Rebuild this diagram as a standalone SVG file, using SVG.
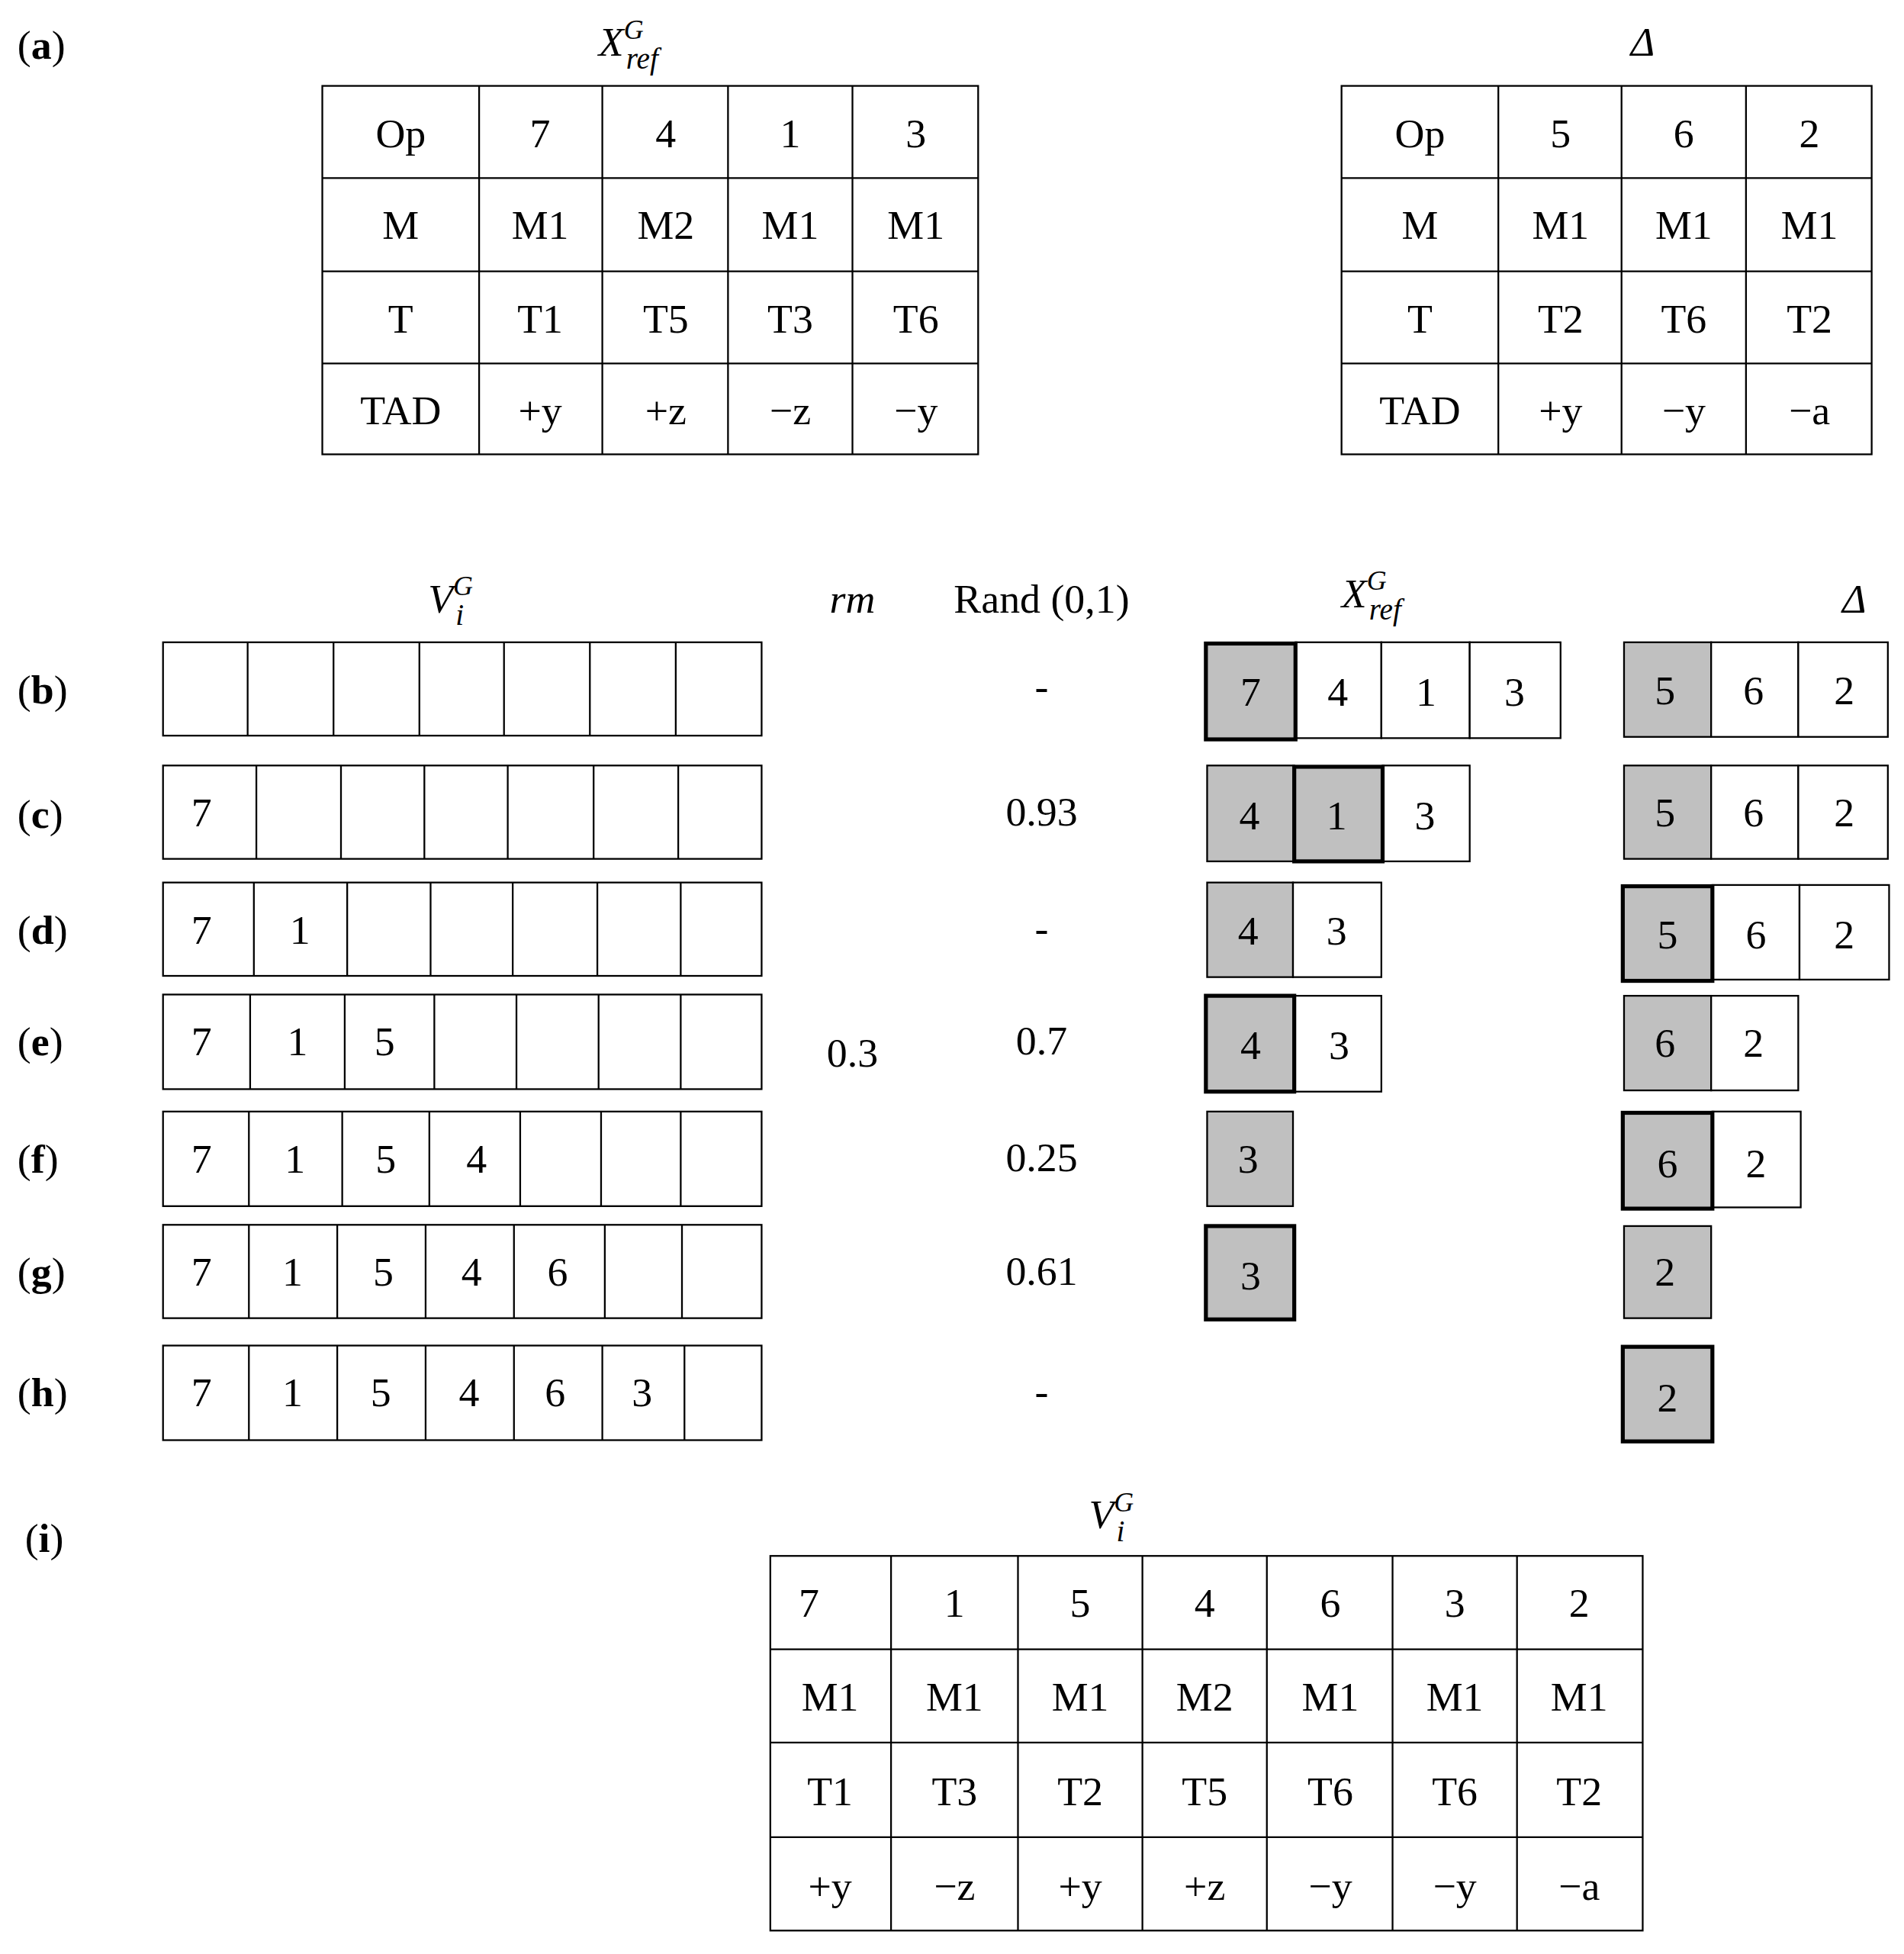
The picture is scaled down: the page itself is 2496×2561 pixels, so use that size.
<svg xmlns="http://www.w3.org/2000/svg" width="2496" height="2561" viewBox="0 0 2496 2561">
<style>
text{font-family:"Liberation Serif","DejaVu Serif",serif;font-size:33px;fill:#000;text-anchor:middle}
.lb{text-anchor:start}
.it{font-style:italic}
rect{fill:#fff;stroke:#000;stroke-width:1.4}
.g{fill:#c0c0c0}
.k{stroke-width:3.2}
line{stroke:#000;stroke-width:1.4}
</style>
<rect x="0" y="0" width="2496" height="2561" style="fill:#fff;stroke:none"/>
<g transform="scale(1.6314)">
<g id="labels">
<text class="lb" x="14" y="47">(<tspan font-weight="bold">a</tspan>)</text>
<text class="lb" x="14" y="565">(<tspan font-weight="bold">b</tspan>)</text>
<text class="lb" x="14" y="665">(<tspan font-weight="bold">c</tspan>)</text>
<text class="lb" x="14" y="758">(<tspan font-weight="bold">d</tspan>)</text>
<text class="lb" x="14" y="848">(<tspan font-weight="bold">e</tspan>)</text>
<text class="lb" x="14" y="942">(<tspan font-weight="bold">f</tspan>)</text>
<text class="lb" x="14" y="1033">(<tspan font-weight="bold">g</tspan>)</text>
<text class="lb" x="14" y="1130">(<tspan font-weight="bold">h</tspan>)</text>
<text class="lb" x="20" y="1247">(<tspan font-weight="bold">i</tspan>)</text>
</g>
<g id="titles">
<text class="it" x="505" y="45">X<tspan font-size="22" dy="-14">G</tspan><tspan font-size="24" dx="-14" dy="24">ref</tspan></text>
<text class="it" x="1320" y="45">Δ</text>
<text class="it" x="362" y="492">V<tspan font-size="22" dy="-14">G</tspan><tspan font-size="24" dx="-14" dy="24">i</tspan></text>
<text class="it" x="685" y="492">rm</text>
<text x="837" y="492">Rand (0,1)</text>
<text class="it" x="1102" y="488">X<tspan font-size="22" dy="-14">G</tspan><tspan font-size="24" dx="-14" dy="24">ref</tspan></text>
<text class="it" x="1490" y="492">Δ</text>
<text class="it" x="893" y="1228">V<tspan font-size="22" dy="-14">G</tspan><tspan font-size="24" dx="-14" dy="24">i</tspan></text>
</g>
<g id="table-a">
<rect x="259" y="69" width="527" height="296"/>
<line x1="385" y1="69" x2="385" y2="365"/><line x1="484" y1="69" x2="484" y2="365"/><line x1="585" y1="69" x2="585" y2="365"/><line x1="685" y1="69" x2="685" y2="365"/>
<line x1="259" y1="143" x2="786" y2="143"/><line x1="259" y1="218" x2="786" y2="218"/><line x1="259" y1="292" x2="786" y2="292"/>
<text x="322" y="118">Op</text><text x="434" y="118">7</text><text x="535" y="118">4</text><text x="635" y="118">1</text><text x="736" y="118">3</text>
<text x="322" y="192">M</text><text x="434" y="192">M1</text><text x="535" y="192">M2</text><text x="635" y="192">M1</text><text x="736" y="192">M1</text>
<text x="322" y="267">T</text><text x="434" y="267">T1</text><text x="535" y="267">T5</text><text x="635" y="267">T3</text><text x="736" y="267">T6</text>
<text x="322" y="341">TAD</text><text x="434" y="341">+y</text><text x="535" y="341">+z</text><text x="635" y="341">−z</text><text x="736" y="341">−y</text>
</g>
<g id="table-delta">
<rect x="1078" y="69" width="426" height="296"/>
<line x1="1204" y1="69" x2="1204" y2="365"/><line x1="1303" y1="69" x2="1303" y2="365"/><line x1="1403" y1="69" x2="1403" y2="365"/>
<line x1="1078" y1="143" x2="1504" y2="143"/><line x1="1078" y1="218" x2="1504" y2="218"/><line x1="1078" y1="292" x2="1504" y2="292"/>
<text x="1141" y="118">Op</text><text x="1254" y="118">5</text><text x="1353" y="118">6</text><text x="1454" y="118">2</text>
<text x="1141" y="192">M</text><text x="1254" y="192">M1</text><text x="1353" y="192">M1</text><text x="1454" y="192">M1</text>
<text x="1141" y="267">T</text><text x="1254" y="267">T2</text><text x="1353" y="267">T6</text><text x="1454" y="267">T2</text>
<text x="1141" y="341">TAD</text><text x="1254" y="341">+y</text><text x="1353" y="341">−y</text><text x="1454" y="341">−a</text>
</g>
<g id="vectors">
<rect x="131" y="516" width="481" height="75"/>
<line x1="199" y1="516" x2="199" y2="591"/><line x1="268" y1="516" x2="268" y2="591"/><line x1="337" y1="516" x2="337" y2="591"/><line x1="405" y1="516" x2="405" y2="591"/><line x1="474" y1="516" x2="474" y2="591"/><line x1="543" y1="516" x2="543" y2="591"/>
<rect x="131" y="615" width="481" height="75"/>
<line x1="206" y1="615" x2="206" y2="690"/><line x1="274" y1="615" x2="274" y2="690"/><line x1="341" y1="615" x2="341" y2="690"/><line x1="408" y1="615" x2="408" y2="690"/><line x1="477" y1="615" x2="477" y2="690"/><line x1="545" y1="615" x2="545" y2="690"/>
<text x="162" y="664">7</text>
<rect x="131" y="709" width="481" height="75"/>
<line x1="204" y1="709" x2="204" y2="784"/><line x1="279" y1="709" x2="279" y2="784"/><line x1="346" y1="709" x2="346" y2="784"/><line x1="412" y1="709" x2="412" y2="784"/><line x1="480" y1="709" x2="480" y2="784"/><line x1="547" y1="709" x2="547" y2="784"/>
<text x="162" y="758">7</text><text x="241" y="758">1</text>
<rect x="131" y="799" width="481" height="76"/>
<line x1="201" y1="799" x2="201" y2="875"/><line x1="277" y1="799" x2="277" y2="875"/><line x1="349" y1="799" x2="349" y2="875"/><line x1="415" y1="799" x2="415" y2="875"/><line x1="481" y1="799" x2="481" y2="875"/><line x1="547" y1="799" x2="547" y2="875"/>
<text x="162" y="848">7</text><text x="239" y="848">1</text><text x="309" y="848">5</text>
<rect x="131" y="893" width="481" height="76"/>
<line x1="200" y1="893" x2="200" y2="969"/><line x1="275" y1="893" x2="275" y2="969"/><line x1="345" y1="893" x2="345" y2="969"/><line x1="418" y1="893" x2="418" y2="969"/><line x1="483" y1="893" x2="483" y2="969"/><line x1="547" y1="893" x2="547" y2="969"/>
<text x="162" y="942">7</text><text x="237" y="942">1</text><text x="310" y="942">5</text><text x="383" y="942">4</text>
<rect x="131" y="984" width="481" height="75"/>
<line x1="200" y1="984" x2="200" y2="1059"/><line x1="271" y1="984" x2="271" y2="1059"/><line x1="342" y1="984" x2="342" y2="1059"/><line x1="413" y1="984" x2="413" y2="1059"/><line x1="486" y1="984" x2="486" y2="1059"/><line x1="548" y1="984" x2="548" y2="1059"/>
<text x="162" y="1033">7</text><text x="235" y="1033">1</text><text x="308" y="1033">5</text><text x="379" y="1033">4</text><text x="448" y="1033">6</text>
<rect x="131" y="1081" width="481" height="76"/>
<line x1="200" y1="1081" x2="200" y2="1157"/><line x1="271" y1="1081" x2="271" y2="1157"/><line x1="342" y1="1081" x2="342" y2="1157"/><line x1="413" y1="1081" x2="413" y2="1157"/><line x1="484" y1="1081" x2="484" y2="1157"/><line x1="550" y1="1081" x2="550" y2="1157"/>
<text x="162" y="1130">7</text><text x="235" y="1130">1</text><text x="306" y="1130">5</text><text x="377" y="1130">4</text><text x="446" y="1130">6</text><text x="516" y="1130">3</text>
</g>
<g id="rand">
<text x="685" y="857">0.3</text>
<text x="837" y="563">-</text><text x="837" y="663">0.93</text><text x="837" y="757">-</text><text x="837" y="847">0.7</text><text x="837" y="941">0.25</text><text x="837" y="1032">0.61</text><text x="837" y="1129">-</text>
</g>
<g id="xref-steps">
<rect x="1041" y="516" width="69" height="77"/><rect x="1110" y="516" width="71" height="77"/><rect x="1181" y="516" width="73" height="77"/>
<rect class="g k" x="969" y="517" width="72" height="77"/>
<text x="1005" y="567">7</text><text x="1075" y="567">4</text><text x="1146" y="567">1</text><text x="1217" y="567">3</text>
<rect class="g" x="970" y="615" width="70" height="77"/><rect x="1111" y="615" width="70" height="77"/>
<rect class="g k" x="1040" y="616" width="71" height="76"/>
<text x="1004" y="666">4</text><text x="1074" y="666">1</text><text x="1145" y="666">3</text>
<rect class="g" x="970" y="709" width="69" height="76"/><rect x="1039" y="709" width="71" height="76"/>
<text x="1003" y="759">4</text><text x="1074" y="759">3</text>
<rect x="1040" y="800" width="70" height="77"/><rect class="g k" x="969" y="800" width="71" height="77"/>
<text x="1005" y="851">4</text><text x="1076" y="851">3</text>
<rect class="g" x="970" y="893" width="69" height="76"/>
<text x="1003" y="942">3</text>
<rect class="g k" x="969" y="985" width="71" height="75"/>
<text x="1005" y="1036">3</text>
</g>
<g id="delta-steps">
<rect class="g" x="1305" y="516" width="70" height="76"/><rect x="1375" y="516" width="70" height="76"/><rect x="1445" y="516" width="72" height="76"/>
<text x="1338" y="566">5</text><text x="1409" y="566">6</text><text x="1482" y="566">2</text>
<rect class="g" x="1305" y="615" width="70" height="75"/><rect x="1375" y="615" width="70" height="75"/><rect x="1445" y="615" width="72" height="75"/>
<text x="1338" y="664">5</text><text x="1409" y="664">6</text><text x="1482" y="664">2</text>
<rect x="1376" y="711" width="70" height="76"/><rect x="1446" y="711" width="72" height="76"/><rect class="g k" x="1304" y="712" width="72" height="76"/>
<text x="1340" y="762">5</text><text x="1411" y="762">6</text><text x="1482" y="762">2</text>
<rect class="g" x="1305" y="800" width="70" height="76"/><rect x="1375" y="800" width="70" height="76"/>
<text x="1338" y="849">6</text><text x="1409" y="849">2</text>
<rect x="1376" y="893" width="71" height="77"/><rect class="g k" x="1304" y="894" width="72" height="77"/>
<text x="1340" y="946">6</text><text x="1411" y="946">2</text>
<rect class="g" x="1305" y="985" width="70" height="74"/>
<text x="1338" y="1033">2</text>
<rect class="g k" x="1304" y="1082" width="72" height="76"/>
<text x="1340" y="1134">2</text>
</g>
<g id="table-i">
<rect x="619" y="1250" width="701" height="301"/>
<line x1="716" y1="1250" x2="716" y2="1551"/><line x1="818" y1="1250" x2="818" y2="1551"/><line x1="918" y1="1250" x2="918" y2="1551"/><line x1="1018" y1="1250" x2="1018" y2="1551"/><line x1="1119" y1="1250" x2="1119" y2="1551"/><line x1="1219" y1="1250" x2="1219" y2="1551"/>
<line x1="619" y1="1325" x2="1320" y2="1325"/><line x1="619" y1="1400" x2="1320" y2="1400"/><line x1="619" y1="1476" x2="1320" y2="1476"/>
<text x="650" y="1299">7</text><text x="767" y="1299">1</text><text x="868" y="1299">5</text><text x="968" y="1299">4</text><text x="1069" y="1299">6</text><text x="1169" y="1299">3</text><text x="1269" y="1299">2</text>
<text x="667" y="1374">M1</text><text x="767" y="1374">M1</text><text x="868" y="1374">M1</text><text x="968" y="1374">M2</text><text x="1069" y="1374">M1</text><text x="1169" y="1374">M1</text><text x="1269" y="1374">M1</text>
<text x="667" y="1450">T1</text><text x="767" y="1450">T3</text><text x="868" y="1450">T2</text><text x="968" y="1450">T5</text><text x="1069" y="1450">T6</text><text x="1169" y="1450">T6</text><text x="1269" y="1450">T2</text>
<text x="667" y="1526">+y</text><text x="767" y="1526">−z</text><text x="868" y="1526">+y</text><text x="968" y="1526">+z</text><text x="1069" y="1526">−y</text><text x="1169" y="1526">−y</text><text x="1269" y="1526">−a</text>
</g>
<g id="connectors"></g>
</g>
</svg>
